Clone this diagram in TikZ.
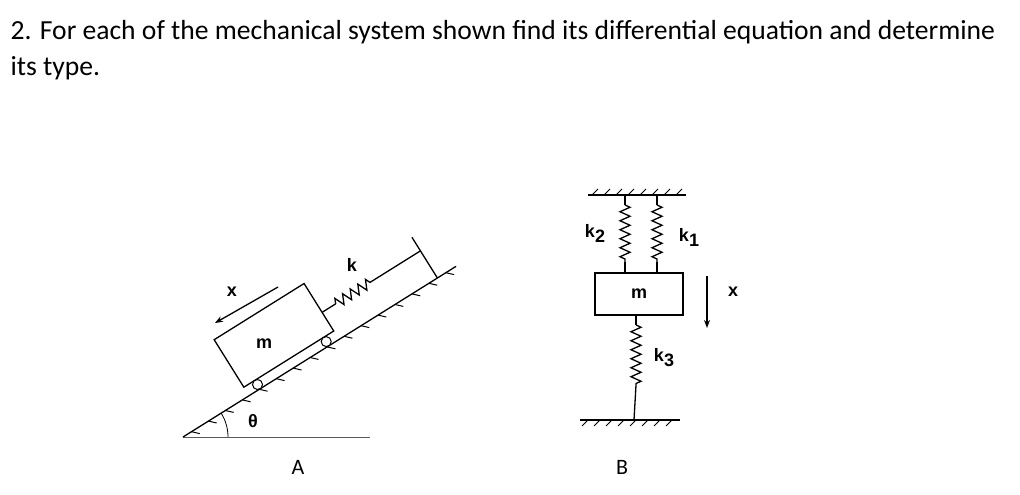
\documentclass[tikz,border=0pt]{standalone}
\usepackage{fontspec}
\setmainfont{Carlito}
\newfontfamily\lab{Liberation Sans}
\usetikzlibrary{decorations.pathmorphing,arrows.meta}
\begin{document}
\begin{tikzpicture}[x=1pt,y=-1pt,line width=1.3pt,
  spr/.style={decorate,decoration={zigzag,segment length=9pt,amplitude=5pt}},
  lbl/.style={font=\lab\bfseries\fontsize{18}{20}\selectfont,inner sep=0pt},
  hatch/.style={line width=1pt}]
\useasboundingbox (0,0) rectangle (1020,495);
\node[anchor=base west,inner sep=0pt,font=\fontsize{27.6}{30}\selectfont] (t1) at (10,40) {2. For each of the mechanical system shown find its differential equation and determine};
\node[anchor=base west,inner sep=0pt,font=\fontsize{27.6}{30}\selectfont] (t2) at (10,75) {its type.};
% ---- A ----
\draw[line width=1pt,gray!70!black] (183,437) -- (370,437);
\begin{scope}[shift={(183,437)},x={(0.848pt,0.530pt)},y={(-0.530pt,0.848pt)}]
  \draw (0,0) -- (322,0);
  \foreach \s in {10,30,...,310} \draw[hatch] (\s,0) -- (\s+6,-6);
  \draw (78,10) -- (184,10) -- (184,66) -- (78,66) -- cycle;
  \draw[fill=white,line width=1pt] (91,5) circle[radius=5pt];
  \draw[fill=white,line width=1pt] (172,5) circle[radius=5pt];
  \draw (184,32) -- (200,32);
  \draw[spr] (200,32) -- (245,32);
  \draw (245,32) -- (300,32);
  \draw (300,0) -- (300,48);
\end{scope}
\draw[-{Stealth[length=8pt]}] (278,287) -- (215,323);
\node[lbl] (xA) at (232,292) {x};
\node[lbl] (mA) at (264,344) {m};
\node[lbl] (kA) at (352,265) {k};
\node[lbl] (th) at (253,421) {θ};
\draw[line width=0.8pt] (228,437) arc[start angle=0,end angle=-32,radius=45];
\node[font=\fontsize{22}{24}\selectfont] (A) at (298,467) {A};
% ---- B ----
\draw (588,195) -- (686,195);
\foreach \s in {592,604,...,680} \draw[hatch] (\s,195) -- (\s+6,189);
\draw (625,195) -- (625,205);
\draw[spr] (625,205) -- (625,262);
\draw (625,262) -- (625,274);
\draw (657,195) -- (657,205);
\draw[spr] (657,205) -- (657,262);
\draw (657,262) -- (657,274);
\node[draw,minimum width=88pt,minimum height=42pt,inner sep=0pt,lbl] (mB) at (639,294) {m};
\draw (636,315) -- (636,325);
\draw[spr] (636,325) -- (636,385);
\draw (636,385) -- (634,420);
\draw (580,420) -- (680,420);
\foreach \s in {582,594,...,672} \draw[hatch] (\s,426) -- (\s+6,420);
\draw[-{Stealth[length=8pt]}] (707,276) -- (707,328);
\node[lbl] (xB) at (733,292) {x};
\node[lbl] (k2) at (595,233) {k\raisebox{-5pt}{2}};
\node[lbl] (k1) at (689,237) {k\raisebox{-5pt}{1}};
\node[lbl] (k3) at (664,358) {k\raisebox{-5pt}{3}};
\node[font=\fontsize{22}{24}\selectfont] (B) at (622,467) {B};
\end{tikzpicture}
\end{document}
